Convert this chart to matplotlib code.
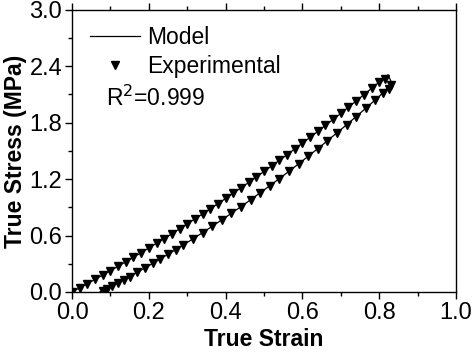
import matplotlib
matplotlib.use('Agg')
import matplotlib.pyplot as plt
from matplotlib.ticker import MultipleLocator, FormatStrFormatter

plt.rcParams['font.family'] = ['Liberation Sans', 'DejaVu Sans']

# Modellkurve (Belastung + Entlastung)
model_strain = [0.0, 0.05, 0.1, 0.15, 0.2, 0.25, 0.3, 0.35, 0.4, 0.45, 0.5, 0.55, 0.6, 0.65, 0.7, 0.75, 0.8, 0.823,
                0.833, 0.8, 0.75, 0.7, 0.65, 0.6, 0.55, 0.5, 0.45, 0.4, 0.35, 0.3, 0.25, 0.2, 0.15, 0.1, 0.073]
model_stress = [0.0, 0.111, 0.226, 0.344, 0.467, 0.593, 0.723, 0.856, 0.994, 1.135, 1.281, 1.429, 1.582, 1.739, 1.899, 2.064, 2.232, 2.31,
                2.22, 2.079, 1.900, 1.726, 1.557, 1.394, 1.236, 1.084, 0.936, 0.794, 0.657, 0.526, 0.400, 0.279, 0.163, 0.053, 0.0]

# Messwerte Belastung
load_strain = [0.0, 0.02, 0.04, 0.06, 0.08, 0.1, 0.12, 0.14, 0.16, 0.18, 0.2, 0.22, 0.24, 0.26, 0.28, 0.3, 0.32, 0.34, 0.36, 0.38,
               0.4, 0.42, 0.44, 0.46, 0.48, 0.5, 0.52, 0.54, 0.56, 0.58, 0.6, 0.62, 0.64, 0.66, 0.68, 0.7, 0.72, 0.74, 0.76, 0.78, 0.8, 0.815]
load_stress = [0.0, 0.044, 0.088, 0.134, 0.179, 0.226, 0.273, 0.320, 0.368, 0.417, 0.467, 0.517, 0.567, 0.618, 0.670, 0.723, 0.776, 0.829, 0.884, 0.938,
               0.994, 1.050, 1.107, 1.164, 1.222, 1.281, 1.340, 1.399, 1.460, 1.521, 1.582, 1.645, 1.707, 1.771, 1.835, 1.899, 1.965, 2.031, 2.097, 2.164, 2.232, 2.27]

# Messwerte Entlastung
unload_strain = [0.83, 0.825, 0.81, 0.79, 0.765, 0.74, 0.715, 0.69, 0.665, 0.64, 0.615, 0.59, 0.565, 0.54, 0.515, 0.49, 0.465, 0.44, 0.415,
                 0.39, 0.365, 0.34, 0.315, 0.29, 0.27, 0.25, 0.23, 0.21, 0.19, 0.17, 0.15, 0.135, 0.12, 0.105, 0.09, 0.08]
unload_stress = [2.20, 2.16, 2.115, 2.043, 1.953, 1.865, 1.778, 1.692, 1.607, 1.524, 1.443, 1.362, 1.283, 1.205, 1.129, 1.054, 0.980, 0.907, 0.836,
                 0.766, 0.698, 0.631, 0.565, 0.500, 0.450, 0.400, 0.351, 0.303, 0.255, 0.209, 0.163, 0.130, 0.097, 0.064, 0.032, 0.011]

fig = plt.figure(figsize=(4.74, 3.53), dpi=100)
ax = fig.add_axes([0.152, 0.173, 0.810, 0.799])

ax.plot(model_strain, model_stress, color='black', lw=0.9, label='Model', zorder=3)
ax.plot(load_strain + unload_strain, load_stress + unload_stress, linestyle='none', marker='v', ms=6,
        color='black', label='Experimental', zorder=2)

ax.set_xlim(0, 1.0)
ax.set_ylim(0, 3.0)
ax.xaxis.set_major_locator(MultipleLocator(0.2))
ax.xaxis.set_minor_locator(MultipleLocator(0.1))
ax.yaxis.set_major_locator(MultipleLocator(0.6))
ax.yaxis.set_minor_locator(MultipleLocator(0.3))
ax.xaxis.set_major_formatter(FormatStrFormatter('%.1f'))
ax.yaxis.set_major_formatter(FormatStrFormatter('%.1f'))
ax.tick_params(which='both', direction='out', top=True, right=False, labelsize=17, width=1)
ax.tick_params(which='major', length=5)
ax.tick_params(which='minor', length=3)
ax.tick_params(axis='x', pad=2)
ax.tick_params(axis='y', pad=2)
for s in ax.spines.values():
    s.set_linewidth(1)

ax.set_xlabel('True Strain', fontsize=16.5, fontweight='bold', labelpad=3)
ax.set_ylabel('True Stress (MPa)', fontsize=16.5, fontweight='bold', labelpad=2)

ax.legend(loc='upper left', frameon=False, fontsize=16.5, handlelength=2.2, handletextpad=0.3,
          labelspacing=0.25, borderaxespad=0.2, bbox_to_anchor=(0.01, 0.99))
ax.text(0.088, 0.688, 'R$^2$=0.999', transform=ax.transAxes, fontsize=16.5, va='center')

fig.savefig('out.png', dpi=100)
